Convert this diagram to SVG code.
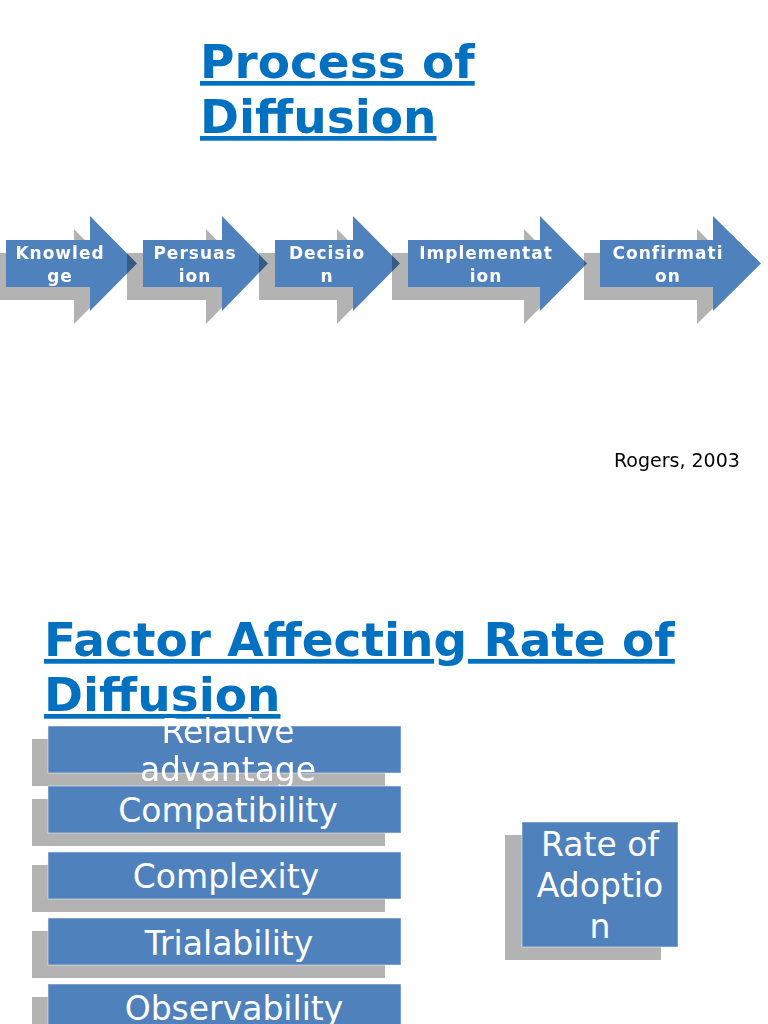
<svg xmlns="http://www.w3.org/2000/svg" width="768" height="1024" viewBox="0 0 768 1024">
<style>
.title{font-family:"DejaVu Sans",sans-serif;font-weight:bold;font-size:47px;fill:#0070c0;text-decoration:underline;}
.shadow{fill:#b3b3b3;mix-blend-mode:multiply;}
.blue{fill:#4f81bd;}
.box{fill:#4f81bd;stroke:#ffffff;stroke-opacity:0.5;stroke-width:1;}
.at{font-family:"DejaVu Sans",sans-serif;font-weight:bold;font-size:17px;letter-spacing:1px;fill:#ffffff;text-anchor:middle;}
.bt{font-family:"DejaVu Sans",sans-serif;font-size:33px;fill:#ffffff;text-anchor:middle;}
.note{font-family:"DejaVu Sans",sans-serif;font-size:19px;fill:#000000;}
</style>
<rect width="768" height="1024" fill="#ffffff"/>
<g id="title1">
<text class="title" x="200" y="78">Process of</text>
<text class="title" x="200" y="133">Diffusion</text>
</g>
<g id="connectors"/>
<g id="knowledge">
<polygon class="shadow" transform="translate(-16,13)" points="6,240 90,240 90,216 137,263.5 90,311 90,287 6,287"/>
<polygon class="blue" points="6,240 90,240 90,216 137,263.5 90,311 90,287 6,287"/>
<text class="at" x="60" y="259">Knowled</text>
<text class="at" x="60" y="282">ge</text>
</g>
<g id="persuasion">
<polygon class="shadow" transform="translate(-16,13)" points="143,240 222,240 222,216 268,263.5 222,311 222,287 143,287"/>
<polygon class="blue" points="143,240 222,240 222,216 268,263.5 222,311 222,287 143,287"/>
<text class="at" x="195" y="259">Persuas</text>
<text class="at" x="195" y="282">ion</text>
</g>
<g id="decision">
<polygon class="shadow" transform="translate(-16,13)" points="275,240 353,240 353,216 400,263.5 353,311 353,287 275,287"/>
<polygon class="blue" points="275,240 353,240 353,216 400,263.5 353,311 353,287 275,287"/>
<text class="at" x="327" y="259">Decisio</text>
<text class="at" x="327" y="282">n</text>
</g>
<g id="implementation">
<polygon class="shadow" transform="translate(-16,13)" points="408,240 540,240 540,216 587,263.5 540,311 540,287 408,287"/>
<polygon class="blue" points="408,240 540,240 540,216 587,263.5 540,311 540,287 408,287"/>
<text class="at" x="486" y="259">Implementat</text>
<text class="at" x="486" y="282">ion</text>
</g>
<g id="confirmation">
<polygon class="shadow" transform="translate(-16,13)" points="600,240 713,240 713,216 761,263.5 713,311 713,287 600,287"/>
<polygon class="blue" points="600,240 713,240 713,216 761,263.5 713,311 713,287 600,287"/>
<text class="at" x="668" y="259">Confirmati</text>
<text class="at" x="668" y="282">on</text>
</g>
<g id="citation">
<text class="note" x="614" y="467">Rogers, 2003</text>
</g>
<g id="title2">
<text class="title" x="44" y="656">Factor Affecting Rate of</text>
<text class="title" x="44" y="711">Diffusion</text>
</g>
<g id="relative-advantage">
<rect class="shadow" x="32" y="739" width="353" height="47"/>
<rect class="box" x="48" y="726" width="353" height="47"/>
<text class="bt" x="228" y="743">Relative</text>
<text class="bt" x="228" y="781">advantage</text>
</g>
<g id="compatibility">
<rect class="shadow" x="32" y="799" width="353" height="47"/>
<rect class="box" x="48" y="786" width="353" height="47"/>
<text class="bt" x="228" y="822">Compatibility</text>
</g>
<g id="complexity">
<rect class="shadow" x="32" y="865" width="353" height="47"/>
<rect class="box" x="48" y="852" width="353" height="47"/>
<text class="bt" x="226" y="888">Complexity</text>
</g>
<g id="trialability">
<rect class="shadow" x="32" y="931" width="353" height="47"/>
<rect class="box" x="48" y="918" width="353" height="47"/>
<text class="bt" x="229" y="955">Trialability</text>
</g>
<g id="observability">
<rect class="shadow" x="32" y="997" width="353" height="47"/>
<rect class="box" x="48" y="984" width="353" height="47"/>
<text class="bt" x="234" y="1020">Observability</text>
</g>
<g id="rate-of-adoption">
<rect class="shadow" x="505" y="835" width="156" height="125"/>
<rect class="box" x="522" y="822" width="156" height="125"/>
<text class="bt" x="600" y="856">Rate of</text>
<text class="bt" x="600" y="897">Adoptio</text>
<text class="bt" x="600" y="938">n</text>
</g>
</svg>
